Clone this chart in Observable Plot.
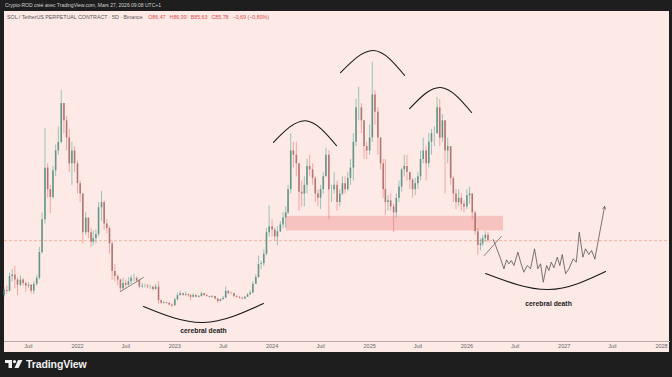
<!DOCTYPE html>
<html><head><meta charset="utf-8">
<script src="https://cdn.jsdelivr.net/npm/d3@7"></script>
<script src="https://cdn.jsdelivr.net/npm/@observablehq/plot@0.6"></script>
<style>
html,body{margin:0;padding:0;background:#1e1e1e;width:672px;height:377px;overflow:hidden;font-family:"Liberation Sans",Arial,sans-serif;}
#top{position:absolute;left:5px;top:1px;font-size:5px;color:#d2d2d2;line-height:9px;white-space:nowrap;}
#panel{position:absolute;left:4px;top:11px;width:665px;height:341px;background:#fde9e6;}
#panel svg{position:absolute;left:0;top:0;overflow:visible;}
#legend{position:absolute;left:3px;top:3px;font-size:5.3px;color:#555;white-space:nowrap;z-index:2;}
#legend .v{color:#e0504a;margin-left:4px;}
#logo{position:absolute;left:5px;top:358px;display:flex;align-items:center;color:#f2f2f2;font-size:10.5px;font-weight:600;letter-spacing:-0.1px;}
#logo svg{margin-right:3px;}
</style></head>
<body>
<div id="top">Crypto-ROD créé avec TradingView.com, Mars 27, 2026 09:08 UTC+1</div>
<div id="panel"><div id="legend">SOL / TetherUS PERPETUAL CONTRACT · 5D · Binance <span class="v">O86,47</span><span class="v">H86,99</span><span class="v">B85,63</span><span class="v">C85,78</span><span class="v">−0,69 (−0,80%)</span></div></div>
<div id="logo"><svg width="18" height="10" viewBox="0 0 18 10"><rect x="0" y="1" width="7" height="3" fill="#f2f2f2"/><rect x="3.5" y="1" width="3.5" height="8" fill="#f2f2f2"/><circle cx="9.5" cy="2.6" r="1.6" fill="#f2f2f2"/><polygon points="13,1 17.5,1 13.5,9 9.5,9" fill="#f2f2f2"/></svg>TradingView</div>
<script>
// ---- candle data: three candles per month (days 1, 11, 21), starting April 2021 ----
const startYear = 2021, startMonth = 3; // April (0-based)
const candleDays = [1, 11, 21];
const firstOpen = 22;
const closes = [
  28,27,44, 46,40,34, 40,36,33, 34,27,35, 42,72,110, 170,145,136, 167,190,200, 245,225,205, 175,190,175,
  152,140,95, 112,95,84, 88,93,124, 130,105,100, 82,50,44, 40,30,36, 34,38,42, 42,39,32, 33,33,32, 32,29,32, 16,13,14, 13,11,10,
  17,22,24, 22,23,22, 20,22,20, 21,24,22, 21,20,21, 18,15,17, 19,27,24, 24,21,20, 19,18,20, 23,25,35, 43,58,59, 70,95,102,
  98,90,96, 104,112,118, 145,190,185, 175,142,140, 150,172,168, 158,140,135, 145,160,185, 145,145,150, 130,140,152, 145,158,170, 200,240,240, 225,195,190,
  205,255,235, 205,175,145, 130,132,125, 118,135,148, 168,172,165, 156,145,152, 160,180,190, 175,200,210, 210,240,205, 225,190,195, 158,140,130, 135,128,125,
  138,140,118, 96,80,82, 88,92,85.78
];
const highs = [
  31,33,48, 52,56,43, 45,42,38, 37,35,38, 45,78,118, 216,175,150, 172,197,218, 260,245,230, 215,200,195,
  178,155,140, 118,112,100, 97,98,130, 143,132,110, 102,85,58, 46,41,42, 40,43,45, 47,44,41, 36,35,35, 34,32,35, 38,17,15, 14,13,12,
  19,25,27, 25,26,24, 23,24,23, 22,26,25, 23,21,22, 21,18,18, 21,32,27, 26,25,22, 21,20,21, 24,28,38, 46,68,62, 75,100,126,
  110,100,102, 108,118,125, 150,210,200, 200,165,155, 160,180,185, 175,160,145, 150,165,193, 190,150,165, 155,145,160, 160,165,180, 210,250,264, 245,225,200,
  220,293,260, 240,205,180, 180,138,140, 128,140,155, 170,185,185, 165,158,158, 165,190,205, 195,210,215, 218,252,250, 232,225,205, 195,160,145, 145,140,132,
  145,148,140, 120,100,88, 92,96,95
];
const lows = [
  20,24,26, 38,30,22, 32,33,26, 30,24,23, 33,40,70, 105,135,117, 134,160,185, 198,210,190, 165,150,165,
  140,130,82, 92,88,78, 80,82,90, 108,98,94, 70,40,38, 33,26,28, 31,33,35, 38,37,30, 30,31,30, 29,27,28, 12,12,12, 12,10,8,
  10,16,21, 21,21,20, 16,19,19, 19,20,21, 20,19,19, 17,13,15, 17,19,23, 23,19,19, 18,17,17, 20,22,24, 35,42,52, 56,68,90,
  90,85,80, 95,100,100, 116,140,170, 160,120,125, 125,140,160, 150,130,125, 122,140,160, 110,130,140, 120,125,138, 140,143,150, 155,195,225, 210,180,180,
  185,200,220, 185,168,135, 115,120,120, 95,112,130, 142,160,155, 145,135,138, 145,155,175, 155,170,185, 195,210,195, 200,140,175, 150,130,122, 125,120,118,
  122,128,110, 92,69,74, 79,84,83
];
const lastClose = 85.78;

// ---- axis ticks ----
const tickDates = ["2021-07-01","2022-01-01","2022-07-01","2023-01-01","2023-07-01","2024-01-01","2024-07-01","2025-01-01","2025-07-01","2026-01-01","2026-07-01","2027-01-01","2027-07-01","2028-01-01"];
const tickLabels = ["Juil","2022","Juil","2023","Juil","2024","Juil","2025","Juil","2026","Juil","2027","Juil","2028"];

// ---- drawings (decimal years, prices) ----
const zoneYears = [2024.147, 2026.377];
const zonePrices = [97, 114];
const arcYears = [[2024.014,2024.343,2024.661],[2024.702,2025.041,2025.36],[2025.411,2025.73,2026.048],[2022.678,2023.295,2023.911],[2026.192,2026.839,2027.425]];
const arcPrices = [[200,225,196],[281,306.6,277.6],[239,263.6,234.6],[9.3,-9.3,12.8],[47.6,29,49.9]];
const labelYears = [2023.295, 2026.839];
const labelPrices = [-18.6, 12.8];
const labelText = "cerebral death";
const wedgeYears = [[2022.442,2022.678],[2026.178,2026.353]];
const wedgePrices = [[26.7,43],[68.5,90.6]];
const projYears = [2026.271,2026.295,2026.346,2026.380,2026.408,2026.431,2026.456,2026.483,2026.524,2026.552,2026.585,2026.62,2026.654,2026.695,2026.729,2026.757,2026.785,2026.819,2026.842,2026.867,2026.894,2026.929,2026.955,2026.98,2027.014,2027.048,2027.093,2027.124,2027.155,2027.192,2027.219,2027.253,2027.281,2027.315];
const projPrices = [86.8,80.1,64.7,53.1,63.5,58.9,62.7,56.9,72.4,60.7,49.1,56.9,53.1,76.3,53.1,58.9,37.5,56.9,51.1,60.7,54.2,66.6,56.9,69.7,47.3,53.1,64.7,60.7,95.6,66.6,76.3,69.7,74.3,64.7];
const arrowEnd = [2027.415, 125.4];

// ---- build ----
const yr = v => { const y = Math.floor(v); const a = Date.UTC(y,0,1), b = Date.UTC(y+1,0,1); return new Date(a + (v - y) * (b - a)); };
const candles = closes.map((c, i) => {
  const m = Math.floor(i / 3);
  const date = new Date(Date.UTC(startYear, startMonth + m, candleDays[i % 3]));
  const open = i === 0 ? firstOpen : closes[i - 1];
  return {date, open, close: c, high: Math.max(highs[i], open, c), low: Math.min(lows[i], open, c), up: c >= open};
});
const labelMap = new Map(tickDates.map((d, i) => [+new Date(d), tickLabels[i]]));
const arcs = arcYears.flatMap((ys, k) => ys.map((y, j) => ({k, x: yr(y), y: arcPrices[k][j]})));
const wedges = wedgeYears.flatMap((ys, k) => ys.map((y, j) => ({k, x: yr(y), y: wedgePrices[k][j]})));
const proj = projYears.map((y, i) => ({x: yr(y), y: projPrices[i]}));
const labels = labelYears.map((y, i) => ({x: yr(y), y: labelPrices[i], t: labelText}));

const upWick = "#2ea08a", downWick = "#e8625e", upBody = "#5e8f82", downBody = "#a8706a";

const chart = Plot.plot({
  width: 665, height: 341,
  marginTop: 0, marginBottom: 11, marginLeft: 0, marginRight: 0,
  style: {background: "transparent", fontFamily: "Liberation Sans, Arial, sans-serif", overflow: "visible"},
  x: {type: "utc", domain: [new Date("2022-01-01"), new Date("2028-01-01")], range: [73, 657]},
  y: {domain: [0, 300], range: [303, 44.7], axis: null},
  marks: [
    Plot.rect([0], {x1: () => yr(zoneYears[0]), x2: () => yr(zoneYears[1]), y1: () => zonePrices[0], y2: () => zonePrices[1], fill: "#f7c3c1"}),
    Plot.ruleY([lastClose], {stroke: "#eba896", strokeDasharray: "3,2", strokeWidth: 0.8}),
    Plot.ruleX(candles, {x: "date", y1: "low", y2: "high", stroke: d => d.up ? upWick : downWick, strokeWidth: 0.7, strokeOpacity: 0.7}),
    Plot.ruleX(candles, {x: "date", y1: "open", y2: "close", stroke: d => d.up ? upBody : downBody, strokeWidth: 1.6, strokeOpacity: 0.9}),
    Plot.line(wedges, {x: "x", y: "y", z: "k", stroke: "#555", strokeWidth: 0.7}),
    Plot.line(proj, {x: "x", y: "y", stroke: "#555", strokeWidth: 0.8}),
    Plot.arrow([0], {x1: () => proj[proj.length-1].x, y1: () => proj[proj.length-1].y, x2: () => yr(arrowEnd[0]), y2: () => arrowEnd[1], stroke: "#555", strokeWidth: 0.8, headLength: 5}),
    Plot.line(arcs, {x: "x", y: "y", z: "k", curve: "natural", stroke: "#1a1a1a", strokeWidth: 1.1}),
    Plot.text(labels, {x: "x", y: "y", text: "t", fontSize: 6.8, fontWeight: 600, fill: "#222"}),
    Plot.frame({anchor: "bottom", stroke: "#b8aaa7"}),
    Plot.axisX(tickDates.map(d => new Date(d)), {tickSize: 0, tickPadding: 3, fontSize: 5.5, fill: "#666", tickFormat: d => labelMap.get(+d), label: null})
  ]
});
document.getElementById("panel").appendChild(chart);
</script>
</body></html>
